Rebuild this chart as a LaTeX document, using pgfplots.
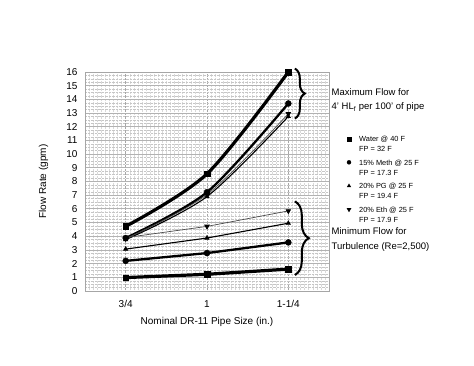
\documentclass[border=0pt]{standalone}
\usepackage{pgfplots}
\pgfplotsset{compat=1.18}
\usepackage{fontspec}
\setmainfont{Liberation Sans}
\usetikzlibrary{decorations.pathreplacing}
\newcommand{\tickfont}{\fontsize{10}{12}\selectfont}
\newcommand{\notefont}{\fontsize{9.5}{14}\selectfont}
\newcommand{\legfont}{\fontsize{7.4}{9}\selectfont}
\begin{document}
\begin{tikzpicture}[x=1pt,y=1pt]
\useasboundingbox (0,0) rectangle (474,366);
\begin{axis}[at={(85pt,75pt)}, anchor=south west, scale only axis,
  width=244pt, height=219pt,
  xmin=-0.5, xmax=2.5, ymin=0, ymax=16,
  xtick={0,1,2}, xticklabels={3/4,1,1-1/4},
  ytick={0,1,...,16},
  minor y tick num=3,
  minor xtick={-0.45,-0.4,...,2.46},
  grid=both,
  major x grid style={densely dotted, gray!70},
  major y grid style={solid, gray!60, line width=0.8pt},
  minor x grid style={densely dotted, gray!30},
  minor y grid style={densely dotted, gray!45},
  tick style={draw=none},
  axis line style={gray!70},
  /pgf/number format/assume math mode=true,
  ticklabel style={font=\tickfont},
  xticklabel style={yshift=-6pt},
  yticklabel style={xshift=-4pt},
  xlabel={Nominal DR-11 Pipe Size (in.)},
  ylabel={Flow Rate (gpm)},
  label style={font=\tickfont},
  xlabel style={at={(axis description cs:0.5,-0.142)}, anchor=center},
  ylabel style={at={(axis description cs:-0.17,0.5)}, anchor=center},
  clip=false,
  legend cell align=left,
  legend style={draw=none, fill=none, font=\legfont,
    at={(axis description cs:1.0656,0.7228)}, anchor=north west,
    row sep=11.6pt, inner sep=0pt, outer sep=0pt},
  legend image code/.code={\path[draw=none, fill=none] (0pt,-6pt) rectangle (8pt,6pt);
    \draw[#1] plot coordinates {(4pt,0pt)};},
  every axis plot/.append style={mark options={solid, draw=black, fill=black, line width=0.4pt}},
]
% Maximum flow
\addplot[forget plot, black, line width=3.2pt, smooth, mark=square*, mark size=2.8pt]
  coordinates {(0,4.72) (1,8.56) (2,16.0)};
\addplot[forget plot, black, line width=2.3pt, smooth, mark=*, mark size=3pt]
  coordinates {(0,3.87) (1,7.22) (2,13.7)};
\addplot[forget plot, black, line width=1.1pt, smooth, mark=triangle*, mark size=2.6pt]
  coordinates {(0,3.75) (1,6.9) (2,12.75)};
\addplot[forget plot, gray!60!black, line width=0.7pt, smooth, mark=triangle*, mark size=2.6pt, mark options={rotate=180, draw=black, fill=black}]
  coordinates {(0,3.82) (1,7.05) (2,12.95)};
% Minimum flow for turbulence
\addplot[black, line width=3.2pt, mark=square*, mark size=2.8pt, legend image post style={mark size=2pt}]
  coordinates {(0,0.98) (1,1.22) (2,1.6)};
\addlegendentry{}
\addplot[black, line width=2.3pt, mark=*, mark size=3pt, legend image post style={mark size=2pt}]
  coordinates {(0,2.2) (1,2.77) (2,3.55)};
\addlegendentry{}
\addplot[black, line width=1.1pt, mark=triangle*, mark size=2.6pt, legend image post style={mark size=2pt}]
  coordinates {(0,3.06) (1,3.87) (2,4.95)};
\addlegendentry{}
\addplot[gray!60!black, line width=0.7pt, mark=triangle*, mark size=2.6pt, mark options={rotate=180, draw=black, fill=black}, legend image post style={mark size=2pt}]
  coordinates {(0,3.9) (1,4.72) (2,5.85)};
\addlegendentry{}
% Braces
\draw[line width=2pt, decorate, decoration={brace, amplitude=10pt}]
  (axis cs:2.08,16.25) -- (axis cs:2.08,12.6);
\draw[line width=2pt, decorate, decoration={brace, amplitude=14pt}]
  (axis cs:2.08,6.55) -- (axis cs:2.08,1.17);
\end{axis}
\node[anchor=base west, font=\notefont, inner sep=0pt] at (331.5,366-95.5) {Maximum Flow for};
\node[anchor=base west, font=\notefont, inner sep=0pt] at (331.5,366-109.5) {4' HL\textsubscript{f} per 100' of pipe};
\node[anchor=base west, font=\notefont, inner sep=0pt] at (331.5,366-235) {Minimum Flow for};
\node[anchor=base west, font=\notefont, inner sep=0pt] at (331.5,366-250) {Turbulence (Re=2,500)};
% Legend texts
\begin{scope}[every node/.style={anchor=base west, font=\legfont, inner sep=0pt}]
\node at (359,366-141.6) {Water @ 40 F};
\node at (359,366-151.6) {FP = 32 F};
\node at (359,366-165.2) {15\% Meth @ 25 F};
\node at (359,366-175.2) {FP = 17.3 F};
\node at (359,366-188.8) {20\% PG @ 25 F};
\node at (359,366-198.8) {FP = 19.4 F};
\node at (359,366-212.4) {20\% Eth @ 25 F};
\node at (359,366-222.4) {FP = 17.9 F};
\end{scope}
\end{tikzpicture}
\end{document}
